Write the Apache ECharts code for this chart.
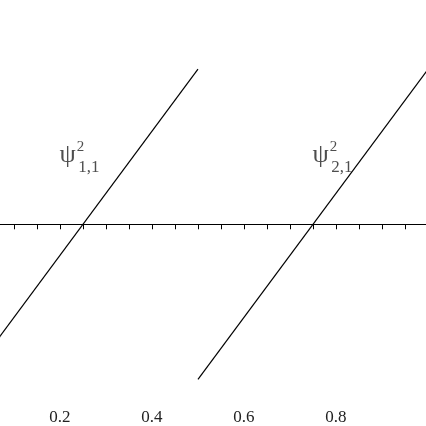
<!DOCTYPE html>
<html>
<head>
<meta charset="utf-8">
<script src="https://cdn.jsdelivr.net/npm/echarts@6/dist/echarts.min.js"></script>
<style>html,body{margin:0;padding:0;background:#fff}#c{width:426px;height:426px}</style>
</head>
<body>
<div id="c"></div>
<script>
// two linear pieces, crossing the axis at 0.25 and 0.75
var line1 = [[0, -0.25], [0.5, 0.25]];
var line2 = [[0.5, -0.25], [1.0, 0.25]];
var tickValues = [0.05, 0.1, 0.15, 0.2, 0.25, 0.3, 0.35, 0.4, 0.45, 0.5, 0.55, 0.6, 0.65, 0.7, 0.75, 0.8, 0.85, 0.9, 0.95];
var labelValues = [0.2, 0.4, 0.6, 0.8, 1];
var curveNames = [
    {sub: '1,1', x: 0.226, y: 0.112},
    {sub: '2,1', x: 0.776, y: 0.112}
];

var chart = echarts.init(document.getElementById('c'));
var font = '"Liberation Serif", "DejaVu Serif", serif';
var ink = '#222';
var option = {
    animation: false,
    grid: {left: 0, right: 0, top: 0, bottom: 0, containLabel: false},
    xAxis: {
        type: 'value',
        min: 0.0696, max: 0.9957,
        axisLine: {onZero: true, lineStyle: {color: '#000', width: 1}},
        axisTick: {inside: false, length: 5, lineStyle: {color: '#000'}, customValues: tickValues},
        splitLine: {show: false},
        axisLabel: {
            color: ink, fontFamily: font, fontSize: 17, margin: 16,
            customValues: labelValues,
            showMaxLabel: true,
            formatter: function (v) { return String(Math.round(v * 10) / 10); }
        }
    },
    yAxis: {
        type: 'value', min: -0.272, max: 0.3616,
        axisLine: {show: false}, axisTick: {show: false},
        axisLabel: {show: false}, splitLine: {show: false}
    },
    series: [
        {type: 'line', data: line1, symbol: 'none', lineStyle: {color: '#000', width: 1.2}},
        {type: 'line', data: line2, symbol: 'none', lineStyle: {color: '#000', width: 1.2}},
        {
            type: 'scatter', symbolSize: 0, silent: true,
            data: curveNames.map(function (c) { return [c.x, c.y]; }),
            label: {
                show: true, position: 'inside',
                formatter: '{p|ψ}{s|2}',
                rich: {
                    p: {fontFamily: font, fontSize: 26, color: ink},
                    s: {fontFamily: font, fontSize: 15, color: ink, verticalAlign: 'bottom', padding: [0, 0, 16, 1]}
                }
            }
        },
        {
            type: 'scatter', symbolSize: 0, silent: true,
            data: curveNames.map(function (c) { return [c.x, c.y, c.sub]; }),
            label: {
                show: true, position: 'inside', offset: [17, 13],
                fontFamily: font, fontSize: 17, color: ink,
                formatter: function (p) { return p.data[2]; }
            }
        }
    ]
};
chart.setOption(option);
</script>
</body>
</html>
